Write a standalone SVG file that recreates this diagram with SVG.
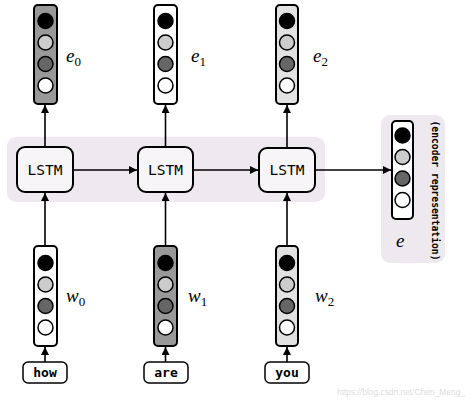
<svg xmlns="http://www.w3.org/2000/svg" width="474" height="401" viewBox="0 0 474 401">
<defs>
<marker id="ah" viewBox="0 0 10 10" refX="10" refY="5" markerWidth="8" markerHeight="8" markerUnits="userSpaceOnUse" orient="auto"><path d="M0,0 L10,5 L0,10 z" fill="#000"/></marker>
<g id="dots">
<circle cx="0" cy="0" r="7.5" fill="#000"/>
<circle cx="0" cy="21.5" r="7.5" fill="#ccc"/>
<circle cx="0" cy="43" r="7.5" fill="#666"/>
<circle cx="0" cy="64.5" r="7.5" fill="#fff"/>
</g>
</defs>
<style>
.band{fill:#eee8ef}
.vec{stroke:#000;stroke-width:2}
#dots circle{stroke:#000;stroke-width:1.5}
.lstm{fill:#f7f5f8;stroke:#000;stroke-width:2}
.word{fill:#fff;stroke:#000;stroke-width:1.5}
.mono{font-family:"DejaVu Sans Mono","Liberation Mono",monospace;fill:#000}
.lab{font-family:"Liberation Serif",serif;font-style:italic;font-size:19px;fill:#000}
.sub{font-style:normal;font-size:13px;fill:#000}
.conn line{stroke:#000;stroke-width:1.6;marker-end:url(#ah)}
</style>
<rect class="band" x="7" y="137" width="318" height="65" rx="9"/>
<rect class="band" x="381" y="115" width="64" height="148" rx="9"/>

<g class="conn">
<line x1="45" y1="147" x2="45" y2="105"/>
<line x1="165.5" y1="147" x2="165.5" y2="105"/>
<line x1="287" y1="148" x2="287" y2="105"/>
<line x1="45" y1="246" x2="45" y2="193"/>
<line x1="165.5" y1="246" x2="165.5" y2="193"/>
<line x1="287" y1="246" x2="287" y2="193"/>
<line x1="45" y1="362" x2="45" y2="347"/>
<line x1="165.5" y1="362" x2="165.5" y2="347"/>
<line x1="287" y1="362" x2="287" y2="347"/>
<line x1="73" y1="170" x2="137" y2="170"/>
<line x1="193" y1="170" x2="258" y2="170"/>
<line x1="315" y1="170" x2="391" y2="170"/>
</g>

<g id="e0"><rect class="vec" x="34" y="5" width="23" height="99" rx="4" fill="#999"/><use href="#dots" x="45.5" y="21"/><text class="lab" x="66" y="62">e<tspan class="sub" dy="4">0</tspan></text></g>
<g id="e1"><rect class="vec" x="154" y="5" width="23" height="99" rx="4" fill="#fff"/><use href="#dots" x="165.5" y="21"/><text class="lab" x="191" y="62">e<tspan class="sub" dy="4">1</tspan></text></g>
<g id="e2"><rect class="vec" x="276" y="5" width="22" height="99" rx="4" fill="#e2e2e2"/><use href="#dots" x="287" y="21"/><text class="lab" x="313" y="62">e<tspan class="sub" dy="4">2</tspan></text></g>

<g id="lstm0"><rect class="lstm" x="17" y="147" width="56" height="45" rx="8"/><text class="mono" x="45" y="175" font-size="14.5" text-anchor="middle">LSTM</text></g>
<g id="lstm1"><rect class="lstm" x="138" y="147" width="55" height="45" rx="8"/><text class="mono" x="165.5" y="175" font-size="14.5" text-anchor="middle">LSTM</text></g>
<g id="lstm2"><rect class="lstm" x="259" y="148" width="56" height="44" rx="8"/><text class="mono" x="287" y="175" font-size="14.5" text-anchor="middle">LSTM</text></g>

<g id="enc"><rect class="vec" x="392" y="121" width="21" height="98" rx="4" fill="#fff"/><use href="#dots" x="402.5" y="135.5"/><text class="lab" x="396" y="247">e</text>
<text class="mono" font-size="9.7" font-weight="bold" transform="translate(431.5,190.5) rotate(90)" text-anchor="middle">(encoder representation)</text></g>

<g id="w0"><rect class="vec" x="34" y="246" width="23" height="100" rx="4" fill="#fff"/><use href="#dots" x="45.5" y="263"/><text class="lab" x="66" y="302">w<tspan class="sub" dy="4">0</tspan></text></g>
<g id="w1"><rect class="vec" x="154" y="246" width="23" height="100" rx="4" fill="#999"/><use href="#dots" x="165.5" y="263"/><text class="lab" x="188" y="302">w<tspan class="sub" dy="4">1</tspan></text></g>
<g id="w2"><rect class="vec" x="276" y="246" width="22" height="100" rx="4" fill="#e2e2e2"/><use href="#dots" x="287" y="263"/><text class="lab" x="315" y="302">w<tspan class="sub" dy="4">2</tspan></text></g>

<g id="how"><rect class="word" x="23" y="362" width="44" height="21" rx="5"/><text class="mono" x="45" y="377" font-size="13" font-weight="bold" text-anchor="middle">how</text></g>
<g id="are"><rect class="word" x="144" y="362" width="44" height="21" rx="5"/><text class="mono" x="166" y="377" font-size="13" font-weight="bold" text-anchor="middle">are</text></g>
<g id="you"><rect class="word" x="265" y="362" width="44" height="21" rx="5"/><text class="mono" x="287" y="377" font-size="13" font-weight="bold" text-anchor="middle">you</text></g>

<text x="337" y="395" font-family="Liberation Sans, sans-serif" font-size="9" fill="#ddd" textLength="128" lengthAdjust="spacingAndGlyphs">https://blog.csdn.net/Chen_Meng_</text>
</svg>
